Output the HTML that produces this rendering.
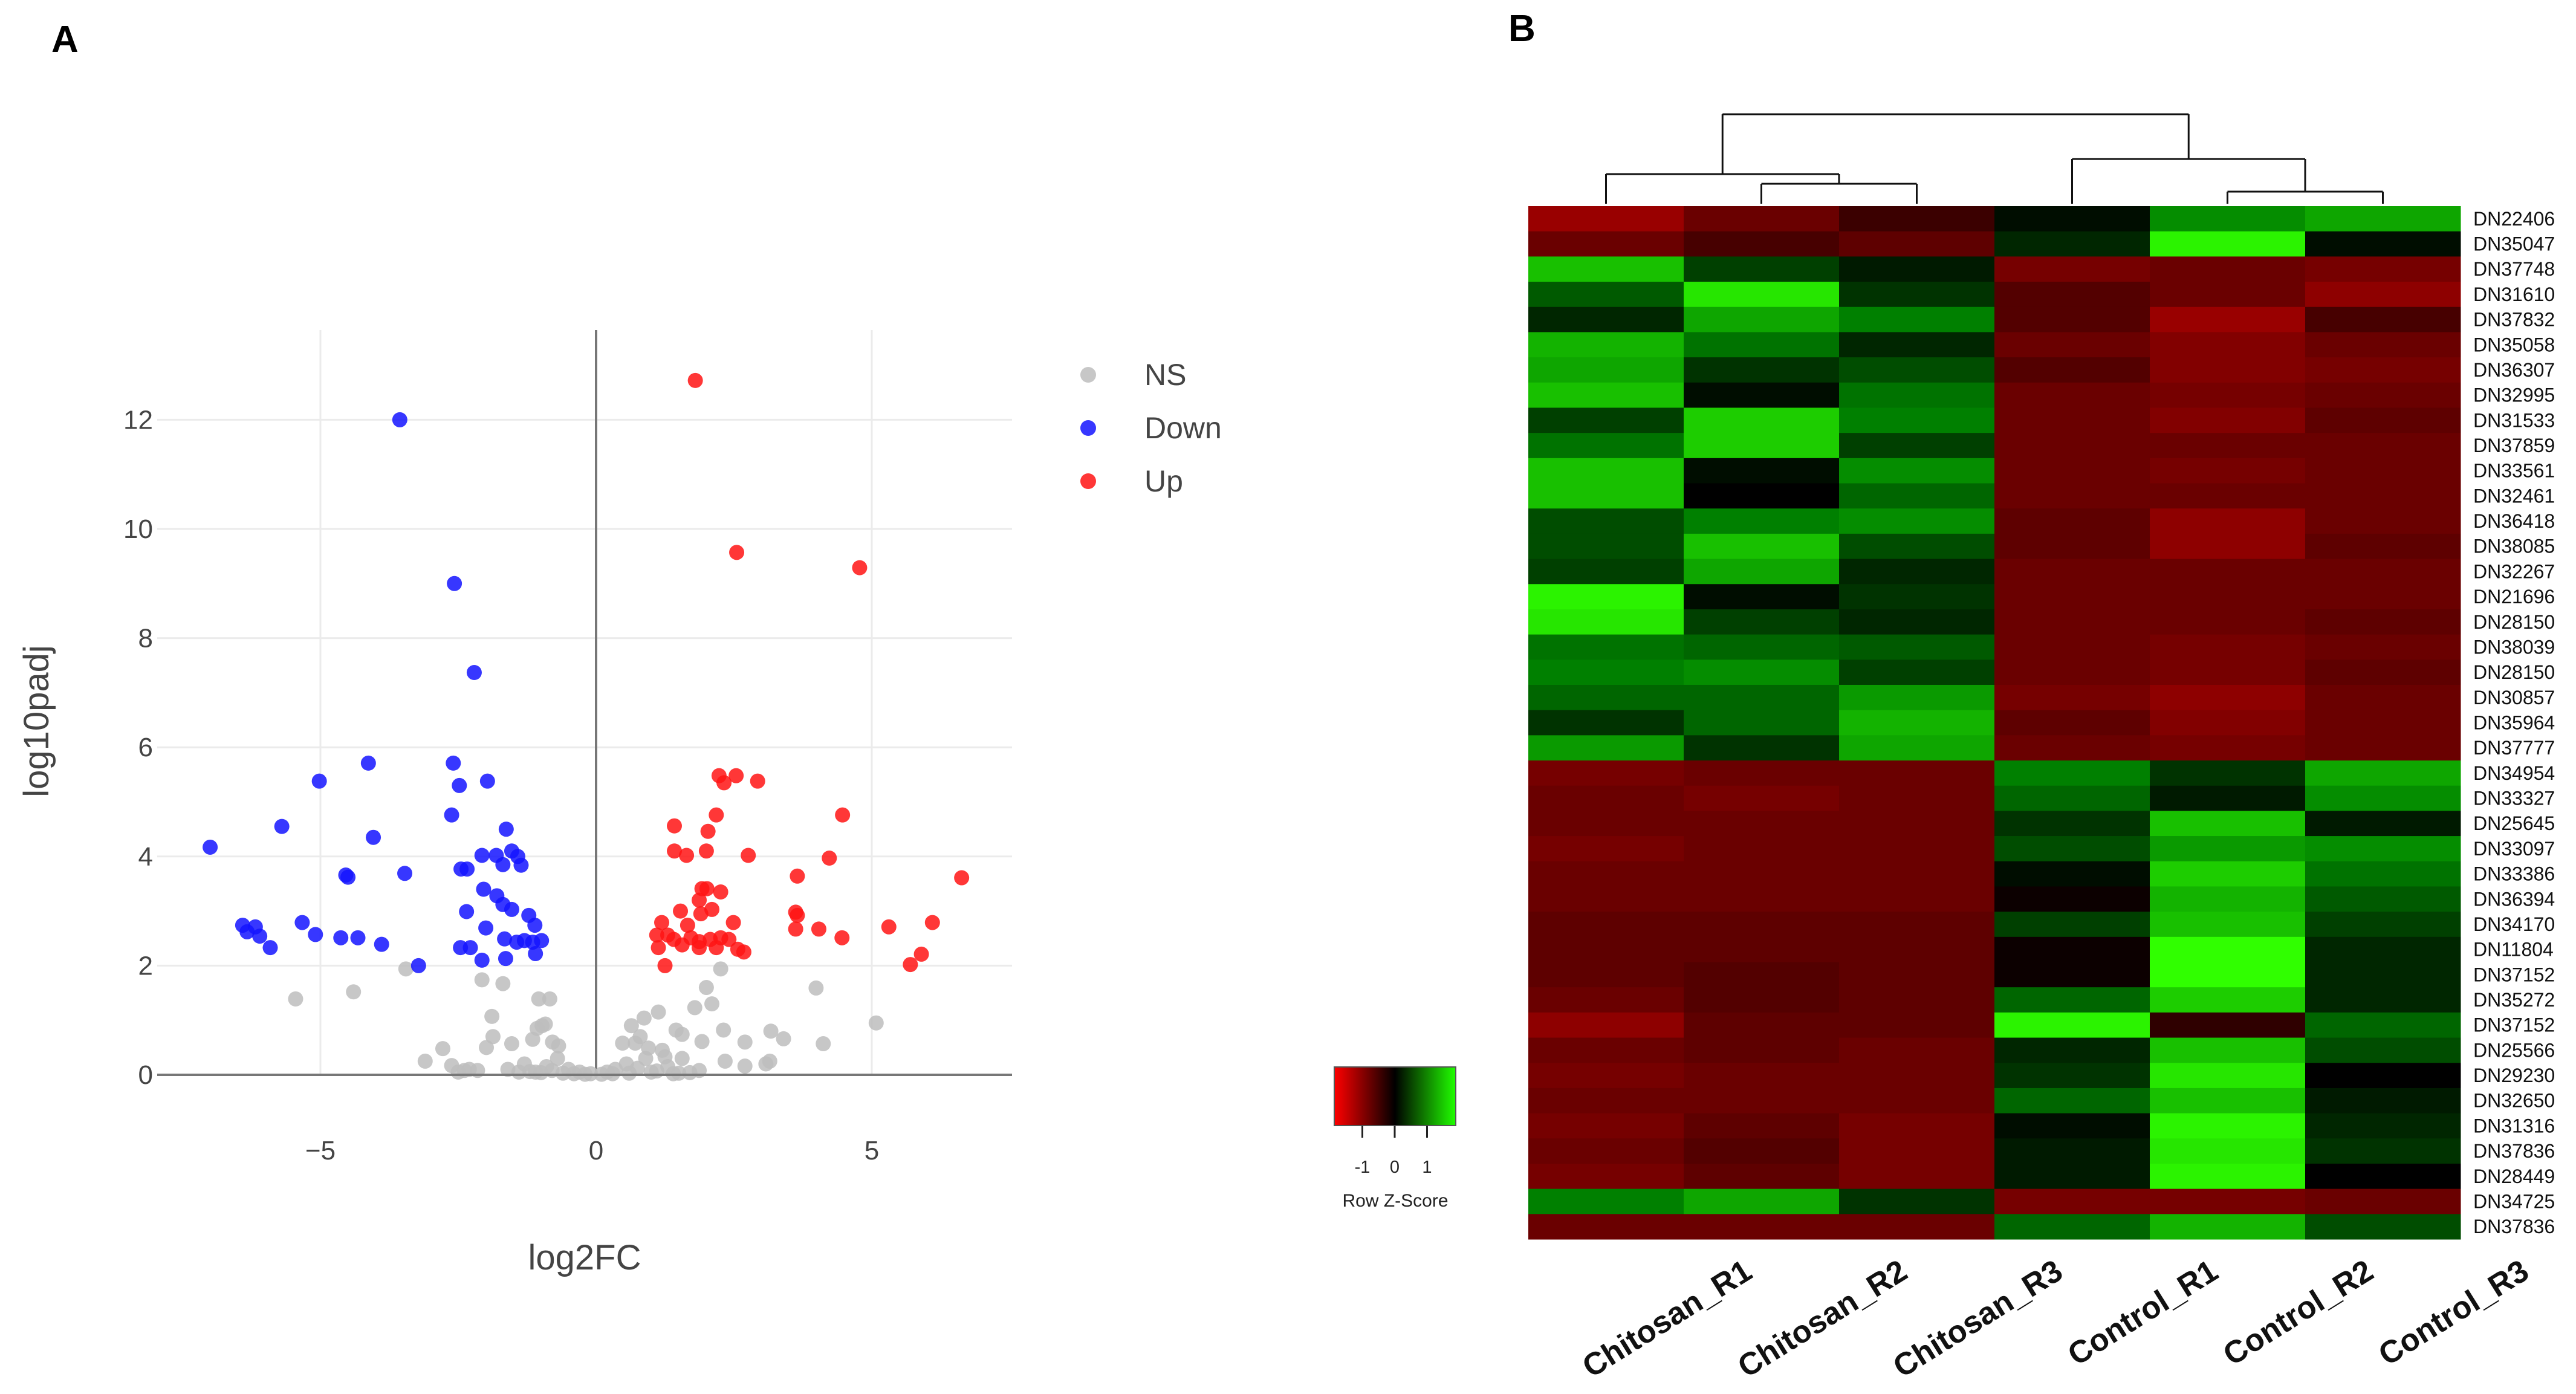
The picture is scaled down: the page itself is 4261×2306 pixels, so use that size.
<!DOCTYPE html>
<html><head><meta charset="utf-8"><style>
html,body{margin:0;padding:0;background:#fff;}
svg{display:block;font-family:"Liberation Sans",sans-serif;}
</style></head><body>
<svg id="fig" width="4261" height="2306" viewBox="0 0 4261 2306" xmlns="http://www.w3.org/2000/svg">
<rect width="4261" height="2306" fill="#fff"/>
<text x="85" y="86" font-size="62" font-weight="bold">A</text>
<text x="2495" y="68" font-size="62" font-weight="bold">B</text>
<g id="volcano"></g>
<g id="heat"></g>
</svg>
<script>
// ---------- Volcano data ----------
const nsX=[-3.45,-2.07,-1.69,-5.45,-4.4,-1.04,-0.84,-1.89,-0.98,-1.07,-0.92,-1.87,-1.53,-1.15,-0.79,-0.68,-2.78,-3.1,-2.62,-2.39,-2.15,-1.99,-1.6,-1.4,-1.2,-1.0,-0.8,-0.6,-0.4,-0.2,-0.1,-1.3,-0.5,-0.3,2.26,2.0,3.99,5.08,4.12,2.1,1.79,1.13,0.87,0.64,2.31,2.7,3.17,3.4,1.45,1.56,1.92,2.34,2.7,3.08,3.15,0.48,0.71,0.95,1.25,1.56,1.87,0.2,0.35,0.55,0.75,0.9,1.1,1.3,1.5,1.7,0.1,0.3,0.6,1.0,1.4,-0.7,-0.9,-1.1,-2.3,-2.5,0.8,1.2];
const nsY=[1.94,1.74,1.67,1.39,1.52,1.39,1.39,1.07,0.9,0.85,0.93,0.7,0.57,0.65,0.6,0.53,0.48,0.25,0.17,0.08,0.08,0.5,0.1,0.05,0.06,0.04,0.08,0.03,0.02,0.01,0.02,0.2,0.1,0.05,1.94,1.6,1.59,0.95,0.57,1.3,1.23,1.15,1.04,0.9,0.82,0.6,0.8,0.66,0.82,0.74,0.61,0.25,0.16,0.2,0.25,0.58,0.58,0.49,0.33,0.3,0.08,0.05,0.1,0.2,0.12,0.3,0.07,0.15,0.03,0.04,0.01,0.02,0.03,0.05,0.02,0.3,0.15,0.05,0.1,0.05,0.7,0.45];
const downX=[-3.56,-2.57,-2.21,-4.13,-2.59,-5.02,-2.48,-1.97,-5.7,-2.62,-1.63,-7.0,-4.04,-4.54,-4.5,-3.47,-2.45,-2.34,-2.07,-1.81,-1.53,-1.42,-1.69,-1.36,-2.04,-1.8,-1.69,-1.53,-2.35,-1.22,-1.11,-2.0,-1.66,-1.44,-1.3,-1.15,-0.99,-2.46,-2.28,-1.1,-2.07,-1.64,-6.41,-6.18,-6.33,-6.1,-5.91,-5.33,-5.09,-4.63,-4.32,-3.89,-3.22];
const downY=[12.0,9.0,7.37,5.71,5.71,5.38,5.3,5.38,4.55,4.76,4.5,4.17,4.35,3.66,3.62,3.69,3.77,3.77,4.02,4.02,4.1,4.0,3.85,3.84,3.4,3.28,3.12,3.03,2.99,2.92,2.74,2.69,2.49,2.43,2.46,2.43,2.46,2.33,2.33,2.22,2.1,2.13,2.74,2.71,2.62,2.54,2.33,2.79,2.57,2.51,2.51,2.39,2.0];
const upX=[1.8,2.55,4.78,2.23,2.54,2.32,2.93,2.18,4.47,1.42,2.03,1.42,1.64,2.0,2.76,4.23,3.65,6.63,1.92,2.01,2.26,1.87,1.53,1.9,2.1,3.62,3.65,1.19,1.66,2.49,3.62,4.04,5.31,6.1,1.1,1.3,1.41,1.72,1.87,2.07,2.26,2.41,1.13,1.56,1.87,2.18,2.57,2.68,4.46,5.9,5.7,1.25];
const upY=[12.72,9.57,9.29,5.48,5.48,5.35,5.38,4.76,4.76,4.56,4.46,4.1,4.02,4.1,4.02,3.97,3.64,3.61,3.41,3.41,3.35,3.2,3.0,2.95,3.03,2.98,2.92,2.79,2.74,2.79,2.67,2.67,2.71,2.79,2.56,2.56,2.48,2.51,2.44,2.48,2.51,2.48,2.33,2.38,2.33,2.33,2.3,2.25,2.51,2.21,2.02,2.0];
const xTicks=[-5,0,5];
const yTicks=[0,2,4,6,8,10,12];
const yTickLabels=["0","2","4","6","8","10","12"];
const xTickLabels=["\u22125","0","5"];
const legendLabels=["NS","Down","Up"];

// ---------- Heatmap data ----------
const geneLabels=["DN22406","DN35047","DN37748","DN31610","DN37832","DN35058","DN36307","DN32995","DN31533","DN37859","DN33561","DN32461","DN36418","DN38085","DN32267","DN21696","DN28150","DN38039","DN28150","DN30857","DN35964","DN37777","DN34954","DN33327","DN25645","DN33097","DN33386","DN36394","DN34170","DN11804","DN37152","DN35272","DN37152","DN25566","DN29230","DN32650","DN31316","DN37836","DN28449","DN34725","DN37836"];
const sampleLabels=["Chitosan_R1","Chitosan_R2","Chitosan_R3","Control_R1","Control_R2","Control_R3"];
const zChitosanR1=[-1.3,-0.9,1.5,0.7,0.3,1.4,1.3,1.5,0.5,0.9,1.5,1.5,0.6,0.6,0.5,1.9,1.8,0.9,1.0,0.8,0.4,1.2,-1.0,-0.9,-0.9,-1.0,-0.9,-0.9,-0.8,-0.8,-0.8,-0.9,-1.2,-0.9,-1.0,-0.9,-1.0,-0.9,-1.0,1.0,-0.9];
const zChitosanR2=[-0.9,-0.6,0.5,1.8,1.3,0.9,0.4,0.1,1.6,1.6,0.1,0.0,1.0,1.5,1.3,0.1,0.5,0.8,1.1,0.8,0.8,0.4,-0.9,-1.0,-0.9,-0.9,-0.9,-0.9,-0.8,-0.8,-0.7,-0.7,-0.8,-0.8,-0.9,-0.9,-0.8,-0.7,-0.8,1.3,-0.9];
const zChitosanR3=[-0.5,-0.8,0.2,0.4,1.0,0.3,0.6,0.9,1.0,0.5,1.1,0.8,1.1,0.6,0.3,0.4,0.3,0.7,0.5,1.2,1.4,1.3,-0.9,-0.9,-0.9,-0.9,-0.9,-0.9,-0.8,-0.8,-0.8,-0.8,-0.8,-0.9,-0.9,-0.9,-1.0,-1.0,-1.0,0.4,-0.9];
const zControlR1=[0.1,0.3,-1.0,-0.7,-0.7,-0.9,-0.7,-0.9,-0.9,-0.9,-0.9,-0.9,-0.8,-0.8,-0.9,-0.9,-0.9,-0.9,-0.9,-1.0,-0.8,-0.9,1.0,0.8,0.4,0.6,0.1,-0.1,0.5,-0.1,-0.1,0.8,1.9,0.3,0.4,0.8,0.1,0.2,0.2,-1.0,0.8];
const zControlR2=[1.1,1.9,-0.9,-0.9,-1.3,-1.1,-1.1,-1.0,-1.1,-0.9,-1.0,-0.9,-1.2,-1.2,-0.9,-0.9,-0.9,-1.0,-1.0,-1.2,-1.1,-1.0,0.4,0.2,1.5,1.2,1.6,1.4,1.5,2.0,2.0,1.6,-0.4,1.5,1.8,1.5,1.9,1.8,1.9,-1.0,1.4];
const zControlR3=[1.3,0.1,-1.0,-1.2,-0.6,-0.9,-1.0,-0.9,-0.8,-0.9,-0.9,-0.9,-0.9,-0.8,-0.9,-0.9,-0.8,-0.9,-0.8,-0.9,-0.9,-0.9,1.3,1.1,0.2,1.1,0.9,0.7,0.5,0.3,0.3,0.3,0.8,0.6,0.0,0.2,0.3,0.4,0.0,-0.9,0.6];
const keyTicks=[-1,0,1];

const NS="http://www.w3.org/2000/svg";
function mk(tag,attrs,parent){const e=document.createElementNS(NS,tag);for(const k in attrs)e.setAttribute(k,attrs[k]);parent.appendChild(e);return e;}

// ---------- Volcano ----------
(function(){
const g=document.getElementById('volcano');
const L=260,R=1674,T=546,B=1778;
const sx=v=>986+v*91.2;
const sy=v=>B-v*90.3;
yTicks.forEach((t,i)=>{
  if(t>0){const gl=mk('line',{x1:L,x2:R,y1:sy(t),y2:sy(t),stroke:'#ebebeb','stroke-width':3},g);
  
  }
  const tl=mk('text',{x:253,y:sy(t)+15,'font-size':44,fill:'#444','text-anchor':'end'},g);
  tl.textContent=yTickLabels[i];
  
  
});
xTicks.forEach((t,i)=>{
  if(t!==0){const gl=mk('line',{x1:sx(t),x2:sx(t),y1:T,y2:B,stroke:'#ebebeb','stroke-width':3},g);
  
  }
  const tl=mk('text',{x:sx(t),y:1918,'font-size':44,fill:'#444','text-anchor':'middle'},g);
  tl.textContent=xTickLabels[i];
  
  
});
const z1=mk('line',{x1:sx(0),x2:sx(0),y1:T,y2:B,stroke:'#777','stroke-width':4},g);


function pts(xs,ys,col,name){
  xs.forEach((x,i)=>{const c=mk('circle',{cx:sx(x),cy:sy(ys[i]),r:12.5,fill:col,'fill-opacity':0.85},g);
  
  });
}
pts(nsX,nsY,'#bdbdbd','point-ns');
const z2=mk('line',{x1:L,x2:R,y1:B,y2:B,stroke:'#777','stroke-width':4},g);


pts(downX,downY,'#1414ff','point-down');
pts(upX,upY,'#ff1414','point-up');
const xt=mk('text',{x:967,y:2100,'font-size':58,fill:'#444','text-anchor':'middle'},g);
xt.textContent='log2FC';


const yt=mk('text',{x:0,y:0,'font-size':58,fill:'#444','text-anchor':'middle',transform:'translate(80,1193) rotate(-90)'},g);
yt.textContent='log10padj';


const lc=['#bdbdbd','#1414ff','#ff1414'];
legendLabels.forEach((l,i)=>{
  const y=620+i*88;
  const d=mk('circle',{cx:1800,cy:y,r:13,fill:lc[i],'fill-opacity':0.85},g);
  
  
  const t=mk('text',{x:1893,y:y+17,'font-size':50,fill:'#444'},g);
  t.textContent=l;
  
  
});
})();

// ---------- Heatmap ----------
(function(){
const g=document.getElementById('heat');
const L=2528,R=4070,T=341,B=2050;
const cols=[zChitosanR1,zChitosanR2,zChitosanR3,zControlR1,zControlR2,zControlR3];
const n=geneLabels.length;
const cw=(R-L)/cols.length, rh=(B-T)/n;
function color(v){
  if(v<0){const r=Math.min(255,Math.round(-v*118));return `rgb(${r},0,0)`;}
  const gg=Math.min(255,Math.round(v*128));const rr=v>1?Math.min(60,Math.round((v-1)*48)):0;
  return `rgb(${rr},${gg},0)`;
}
cols.forEach((col,c)=>{
  col.forEach((v,r)=>{
    const rc=mk('rect',{x:L+c*cw,y:T+r*rh,width:cw+0.5,height:rh+0.5,fill:color(v)},g);
    
    
  });
});
geneLabels.forEach((l,r)=>{
  const t=mk('text',{x:4091,y:T+(r+0.5)*rh+11,'font-size':32,fill:'#111'},g);
  t.textContent=l;
  
  
});
const cx=i=>L+(i+0.5)*cw;
sampleLabels.forEach((l,i)=>{
  const ax=cx(i)+245, ay=2112;
  const t=mk('text',{x:ax,y:ay,'font-size':52,'font-weight':'bold',fill:'#111','text-anchor':'end',transform:`rotate(-32 ${ax} ${ay})`},g);
  t.textContent=l;
  
  
});
// dendrogram
const lx=(cx(0)+(cx(1)+cx(2))/2)/2, rx=(cx(3)+(cx(4)+cx(5))/2)/2;
const segs=[
 [cx(1),304,cx(2),304],[cx(1),304,cx(1),337],[cx(2),304,cx(2),337],
 [cx(0),288,(cx(1)+cx(2))/2,288],[cx(0),288,cx(0),337],[(cx(1)+cx(2))/2,288,(cx(1)+cx(2))/2,304],
 [cx(4),317,cx(5),317],[cx(4),317,cx(4),337],[cx(5),317,cx(5),337],
 [cx(3),263,(cx(4)+cx(5))/2,263],[cx(3),263,cx(3),337],[(cx(4)+cx(5))/2,263,(cx(4)+cx(5))/2,317],
 [lx,189,rx,189],[lx,189,lx,288],[rx,189,rx,263]
];
segs.forEach(s=>{
  const ln=mk('line',{x1:s[0],y1:s[1],x2:s[2],y2:s[3],stroke:'#111','stroke-width':3},g);
  
  
});
// color key
const defs=mk('defs',{},g);
const lg=mk('linearGradient',{id:'kg',x1:0,x2:1,y1:0,y2:0},defs);
[['0','#ff0000'],['0.5','#000000'],['1','#20ff00']].forEach(s=>mk('stop',{offset:s[0],'stop-color':s[1]},lg));
const kr=mk('rect',{x:2207,y:1765,width:201,height:97,fill:'url(#kg)',stroke:'#555','stroke-width':2},g);


const kx=v=>2307+v*53.5;
keyTicks.forEach(v=>{
  const tk=mk('line',{x1:kx(v),x2:kx(v),y1:1862,y2:1882,stroke:'#222','stroke-width':3},g);
  
  
  const t=mk('text',{x:kx(v),y:1940,'font-size':29,fill:'#222','text-anchor':'middle'},g);
  t.textContent=String(v);
  
  
});
const kt=mk('text',{x:2308,y:1996,'font-size':30,fill:'#222','text-anchor':'middle'},g);
kt.textContent='Row Z-Score';


})();
</script>
</body></html>
